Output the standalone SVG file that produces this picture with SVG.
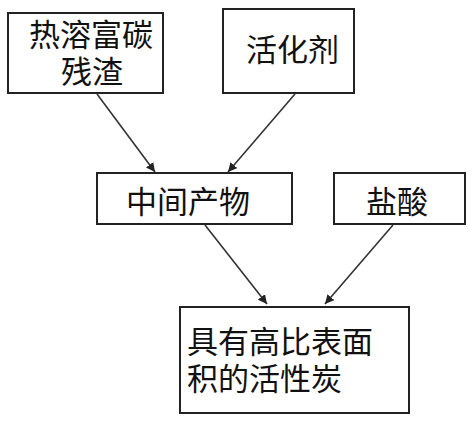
<svg xmlns="http://www.w3.org/2000/svg" width="474" height="422" viewBox="0 0 474 422">
<style>
rect{fill:#fff;stroke:#222;stroke-width:2}
text{font-family:"Noto Sans CJK SC","Noto Sans CJK JP",sans-serif;font-size:31px;fill:#111}
.c line{stroke:#333;stroke-width:1.6;marker-end:url(#a)}
</style>
<defs>
<marker id="a" viewBox="0 0 10 10" refX="10" refY="5" markerWidth="9" markerHeight="9" markerUnits="userSpaceOnUse" orient="auto"><path d="M0,0L10,5L0,10z" fill="#222"/></marker>
</defs>
<rect width="474" height="422" style="fill:#fff;stroke:none"/>
<g id="n1"><rect x="8" y="13" width="155" height="80"/><text x="29" y="46">热溶富碳<tspan x="61" y="83">残渣</tspan></text></g>
<g id="n2"><rect x="223" y="9" width="131" height="84"/><text x="246" y="61">活化剂</text></g>
<g id="n3"><rect x="97" y="173" width="195" height="51"/><text x="126" y="213">中间产物</text></g>
<g id="n4"><rect x="334" y="173" width="131" height="51"/><text x="366" y="213">盐酸</text></g>
<g id="n5"><rect x="180" y="307" width="229" height="106"/><text x="187" y="353">具有高比表面<tspan x="187" y="390">积的活性炭</tspan></text></g>
<g class="c">
<line x1="97" y1="94" x2="155" y2="172"/>
<line x1="295" y1="94" x2="228" y2="172"/>
<line x1="205" y1="225" x2="267" y2="304"/>
<line x1="393" y1="225" x2="325" y2="304"/>
</g>
</svg>
